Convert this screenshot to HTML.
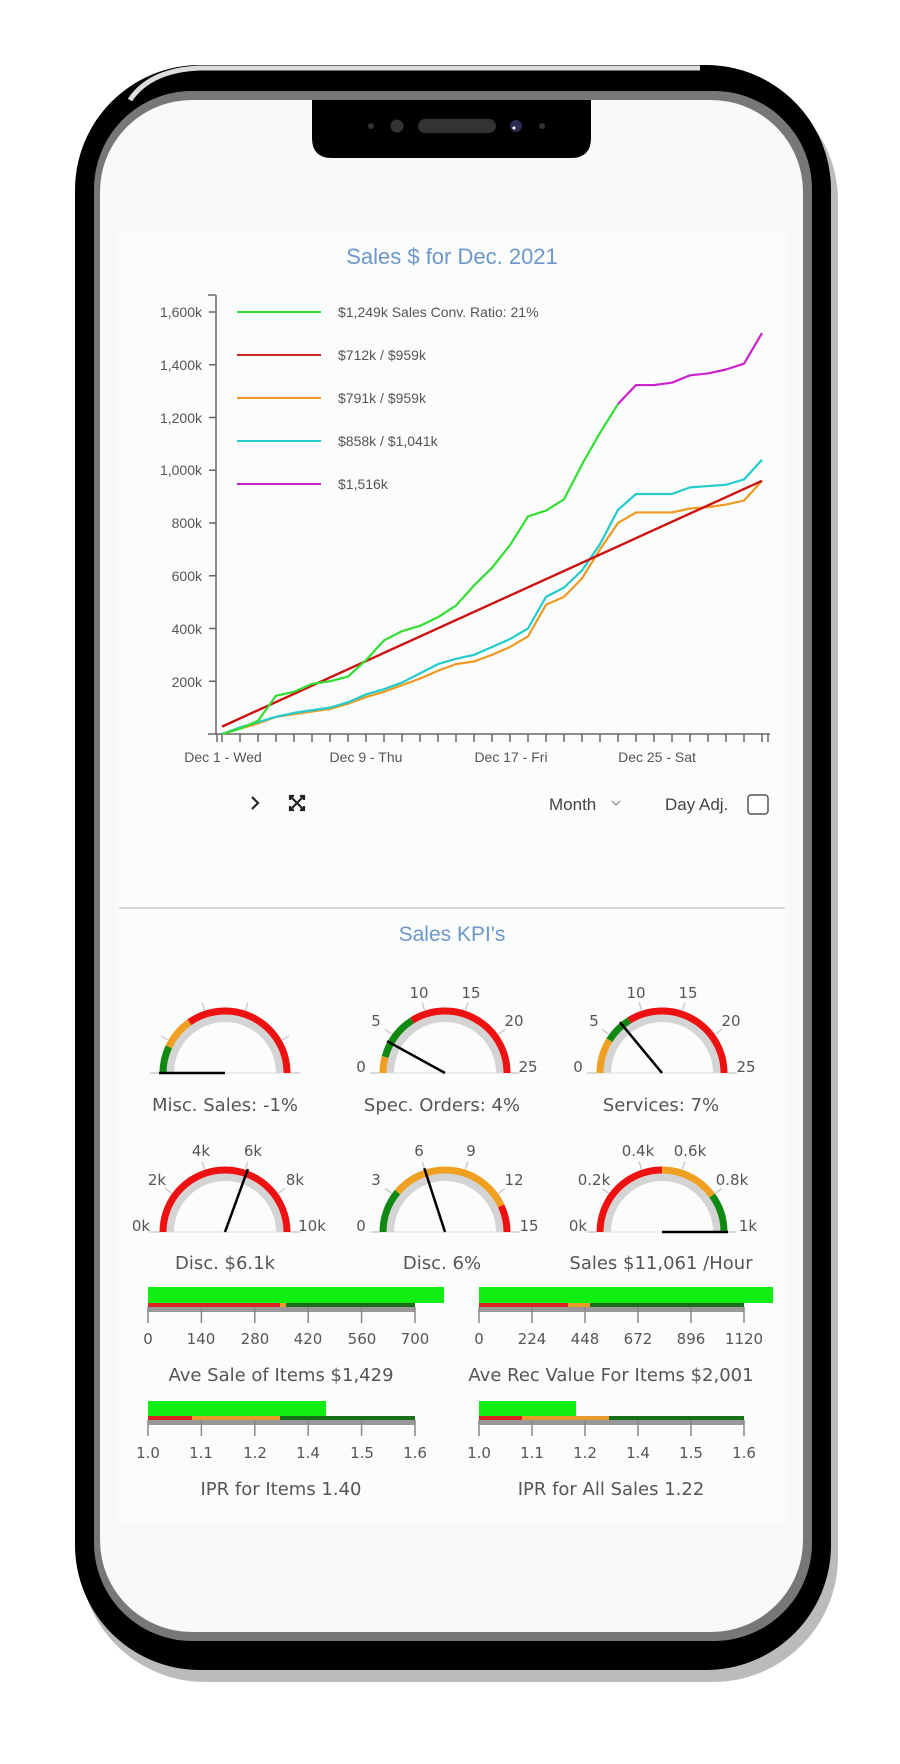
<!DOCTYPE html>
<html><head><meta charset="utf-8">
<style>
html,body{margin:0;padding:0;background:#fff;width:900px;height:1764px;overflow:hidden}
svg{display:block}
.ax{font-family:"Liberation Sans",sans-serif;font-size:14px;fill:#555}
.kp{font-family:"DejaVu Sans","Liberation Sans",sans-serif;fill:#555}
</style></head><body>
<svg id="s" width="900" height="1764" viewBox="0 0 900 1764" xmlns="http://www.w3.org/2000/svg">
<!-- phone -->
<rect x="80" y="76" width="758" height="1606" rx="125" fill="#bbb"/>
<rect x="75" y="65" width="756" height="1605" rx="125" fill="#000"/>
<path d="M130 100 Q150 70 200 68 H700" fill="none" stroke="#ddd" stroke-width="5"/>
<rect x="94" y="91" width="718" height="1550" rx="98" fill="#777"/>
<rect x="100" y="100" width="703" height="1532" rx="92" fill="#f8f9fa"/>
<rect x="118" y="232" width="668" height="1290" fill="#fbfcfc"/>
<path d="M312 100 H591 V138 Q591 158 571 158 H332 Q312 158 312 138 Z" fill="#000"/>
<circle cx="371" cy="126" r="3" fill="#333"/>
<circle cx="397" cy="126" r="6.5" fill="#333"/>
<rect x="418" y="119" width="78" height="14" rx="7" fill="#333"/>
<circle cx="516" cy="126" r="6" fill="#2a2a55"/>
<circle cx="514" cy="128" r="1.5" fill="#fff"/>
<circle cx="542" cy="126" r="3" fill="#333"/>

<!-- chart -->
<text x="452" y="264" text-anchor="middle" font-family="Liberation Sans,sans-serif" font-size="22" fill="#6d97c9">Sales $ for Dec. 2021</text>
<g id="chart"></g>
<g class="ax" text-anchor="end">
<text x="202" y="317">1,600k</text><text x="202" y="370">1,400k</text><text x="202" y="423">1,200k</text>
<text x="202" y="475">1,000k</text><text x="202" y="528">800k</text><text x="202" y="581">600k</text>
<text x="202" y="634">400k</text><text x="202" y="687">200k</text>
</g>
<g class="ax" text-anchor="middle">
<text x="223" y="762">Dec 1 - Wed</text><text x="366" y="762">Dec 9 - Thu</text>
<text x="511" y="762">Dec 17 - Fri</text><text x="657" y="762">Dec 25 - Sat</text>
</g>
<g stroke-width="2">
<line x1="237" y1="312" x2="321" y2="312" stroke="#33dd33"/>
<line x1="237" y1="355" x2="321" y2="355" stroke="#cc2222"/>
<line x1="237" y1="398" x2="321" y2="398" stroke="#ee9922"/>
<line x1="237" y1="441" x2="321" y2="441" stroke="#22cccc"/>
<line x1="237" y1="484" x2="321" y2="484" stroke="#cc22cc"/>
</g>
<g class="ax">
<text x="338" y="317">$1,249k Sales Conv. Ratio: 21%</text>
<text x="338" y="360">$712k / $959k</text>
<text x="338" y="403">$791k / $959k</text>
<text x="338" y="446">$858k / $1,041k</text>
<text x="338" y="489">$1,516k</text>
</g>
<path d="M252 797 L258 803 L252 809" fill="none" stroke="#222" stroke-width="2.2"/>
<g stroke="#222" stroke-width="2.2" fill="none"><path d="M291 797 L303 809 M303 797 L291 809"/><path d="M290 800 V796 H294 M300 796 H304 V800 M304 806 V810 H300 M294 810 H290 V806"/></g>
<text x="549" y="810" font-family="Liberation Sans,sans-serif" font-size="17" fill="#444">Month</text>
<path d="M612 801 L616 805 L620 801" fill="none" stroke="#999" stroke-width="1.5"/>
<text x="665" y="810" font-family="Liberation Sans,sans-serif" font-size="17" fill="#444">Day Adj.</text>
<rect x="748" y="795" width="20" height="19" rx="3" fill="#fff" stroke="#555" stroke-width="1.5"/>

<line x1="119" y1="908" x2="785" y2="908" stroke="#ccc" stroke-width="1.5"/>
<text x="452" y="941" text-anchor="middle" font-family="Liberation Sans,sans-serif" font-size="21" fill="#6d97c9">Sales KPI's</text>
<g id="gauges"></g>
<g class="kp" font-size="15" text-anchor="middle">
<text x="361" y="1072">0</text><text x="376" y="1026">5</text><text x="419" y="998">10</text><text x="471" y="998">15</text><text x="514" y="1026">20</text><text x="528" y="1072">25</text>
<text x="578" y="1072">0</text><text x="594" y="1026">5</text><text x="636" y="998">10</text><text x="688" y="998">15</text><text x="731" y="1026">20</text><text x="746" y="1072">25</text>
<text x="141" y="1231">0k</text><text x="157" y="1185">2k</text><text x="201" y="1156">4k</text><text x="253" y="1156">6k</text><text x="295" y="1185">8k</text><text x="312" y="1231">10k</text>
<text x="361" y="1231">0</text><text x="376" y="1185">3</text><text x="419" y="1156">6</text><text x="471" y="1156">9</text><text x="514" y="1185">12</text><text x="529" y="1231">15</text>
<text x="578" y="1231">0k</text><text x="594" y="1185">0.2k</text><text x="638" y="1156">0.4k</text><text x="690" y="1156">0.6k</text><text x="732" y="1185">0.8k</text><text x="748" y="1231">1k</text>
</g>
<g class="kp" font-size="18" text-anchor="middle">
<text x="225" y="1111">Misc. Sales: -1%</text>
<text x="442" y="1111">Spec. Orders: 4%</text>
<text x="661" y="1111">Services: 7%</text>
<text x="225" y="1269">Disc. $6.1k</text>
<text x="442" y="1269">Disc. 6%</text>
<text x="661" y="1269">Sales $11,061 /Hour</text>
</g>
<g id="bullets"></g>
<g class="kp" font-size="15" text-anchor="middle">
<text x="148" y="1344">0</text><text x="201" y="1344">140</text><text x="255" y="1344">280</text><text x="308" y="1344">420</text><text x="362" y="1344">560</text><text x="415" y="1344">700</text>
<text x="479" y="1344">0</text><text x="532" y="1344">224</text><text x="585" y="1344">448</text><text x="638" y="1344">672</text><text x="691" y="1344">896</text><text x="744" y="1344">1120</text>
<text x="148" y="1458">1.0</text><text x="201" y="1458">1.1</text><text x="255" y="1458">1.2</text><text x="308" y="1458">1.4</text><text x="362" y="1458">1.5</text><text x="415" y="1458">1.6</text>
<text x="479" y="1458">1.0</text><text x="532" y="1458">1.1</text><text x="585" y="1458">1.2</text><text x="638" y="1458">1.4</text><text x="691" y="1458">1.5</text><text x="744" y="1458">1.6</text>
</g>
<g class="kp" font-size="18" text-anchor="middle">
<text x="281" y="1381">Ave Sale of Items $1,429</text>
<text x="611" y="1381">Ave Rec Value For Items $2,001</text>
<text x="281" y="1495">IPR for Items 1.40</text>
<text x="611" y="1495">IPR for All Sales 1.22</text>
</g>
</svg>
<script>
var NS="http://www.w3.org/2000/svg";
function el(p,t,a){var e=document.createElementNS(NS,t);for(var k in a)e.setAttribute(k,a[k]);p.appendChild(e);return e;}
var ch=document.getElementById('chart');
var X0=222,DX=18,Y0=734,K=52.75/200;
function px(d){return X0+(d-1)*DX} function py(v){return Y0-v*K}
el(ch,'line',{x1:216,y1:295,x2:216,y2:734,stroke:'#666','stroke-width':1.5});
el(ch,'line',{x1:208,y1:295,x2:216,y2:295,stroke:'#666','stroke-width':1.5});
el(ch,'line',{x1:208,y1:734,x2:770,y2:734,stroke:'#666','stroke-width':1.5});
for(var i=1;i<=8;i++)el(ch,'line',{x1:209,y1:Y0-i*52.75,x2:216,y2:Y0-i*52.75,stroke:'#666','stroke-width':1.5});
el(ch,'line',{x1:217,y1:734,x2:217,y2:742,stroke:'#666','stroke-width':1.5});
for(var d=1;d<=31;d++)el(ch,'line',{x1:px(d),y1:734,x2:px(d),y2:742,stroke:'#666','stroke-width':1.5});
el(ch,'line',{x1:768,y1:734,x2:768,y2:742,stroke:'#666','stroke-width':1.5});
function line(arr,start,col){var p=[];for(var i=0;i<arr.length;i++)p.push(px(start+i)+','+py(arr[i]));el(ch,'polyline',{points:p.join(' '),fill:'none',stroke:col,'stroke-width':2.2,'stroke-linejoin':'round'});}
var orange=[0,20,40,65,75,85,95,115,140,160,185,210,240,265,275,300,330,370,490,520,590,700,800,840,840,840,855,860,870,885,960];
var cyan=[0,25,45,65,80,90,100,120,150,170,195,230,265,285,300,330,360,400,520,555,620,720,850,910,910,910,935,940,945,965,1040];
var green=[0,20,50,145,160,190,200,218,280,355,390,410,443,487,563,630,716,825,847,890,1022,1142,1251];
var purple=[1251,1323,1323,1332,1360,1367,1382,1404,1520];
line(orange,1,'#ee9922');line(cyan,1,'#22cccc');
el(ch,'line',{x1:px(1),y1:py(28),x2:px(31),y2:py(960),stroke:'#cc1111','stroke-width':2.4});
line(green,1,'#33dd33');line(purple,23,'#cc22cc');

var g=document.getElementById('gauges');
function pt(cx,cy,r,a){a=a*Math.PI/180;return [cx+r*Math.cos(a),cy-r*Math.sin(a)];}
function arc(cx,cy,r,a1,a2,col,w){var p1=pt(cx,cy,r,a1),p2=pt(cx,cy,r,a2);el(g,'path',{d:'M'+p1[0]+' '+p1[1]+' A'+r+' '+r+' 0 0 1 '+p2[0]+' '+p2[1],fill:'none',stroke:col,'stroke-width':w});}
var R='#ee1111',O='#f0a020',G='#118811';
function gauge(cx,cy,segs,needle,nlen,ticks){
 arc(cx,cy,55,180,0,'#d4d4d4',8);
 el(g,'line',{x1:cx-76,y1:cy,x2:cx+76,y2:cy,stroke:'#ddd','stroke-width':1});
 for(var i=0;i<ticks.length;i++){var a=pt(cx,cy,66,ticks[i]),b=pt(cx,cy,74,ticks[i]);el(g,'line',{x1:a[0],y1:a[1],x2:b[0],y2:b[1],stroke:'#ccc','stroke-width':1.5});}
 for(var i=0;i<segs.length;i++)arc(cx,cy,62,segs[i][0],segs[i][1],segs[i][2],7);
 var e=pt(cx,cy,nlen,needle);el(g,'line',{x1:cx,y1:cy,x2:e[0],y2:e[1],stroke:'#000','stroke-width':2.5});
}
var T=[180,144,108,72,36,0];
gauge(225,1073,[[180,155,G],[155,125,O],[125,0,R]],180,66,[180,150,108,72,30,0]);
gauge(445,1073,[[180,165,O],[165,122,G],[122,0,R]],151.2,66,T);
gauge(662,1073,[[180,148,O],[148,122,G],[122,0,R]],129.6,66,T);
gauge(225,1232,[[180,0,R]],70,67,T);
gauge(445,1232,[[180,140,G],[140,25,O],[25,0,R]],108,67,T);
gauge(662,1232,[[180,90,R],[90,36,O],[36,0,G]],0,66,T);

var b=document.getElementById('bullets');
function bullet(x0,x1,y,gEnd,rEnd,oEnd,h){
 el(b,'rect',{x:x0,y:y,width:gEnd-x0,height:h,fill:'#11ee11'});
 el(b,'rect',{x:x0,y:y+h,width:x1-x0,height:4,fill:'#1a6e1a'});
 el(b,'rect',{x:x0,y:y+h,width:rEnd-x0,height:4,fill:'#dd2222'});
 el(b,'rect',{x:rEnd,y:y+h,width:oEnd-rEnd,height:4,fill:'#e89a2a'});
 el(b,'rect',{x:x0,y:y+h+4,width:x1-x0,height:5,fill:'#999'});
 for(var i=0;i<6;i++){var xx=x0+i*(x1-x0)/5;el(b,'line',{x1:xx,y1:y+h+4,x2:xx,y2:y+h+20,stroke:'#888','stroke-width':1.5});}
}
bullet(148,415,1287,444,280,286,16);
bullet(479,744,1287,773,568,590,16);
bullet(148,415,1401,326,192,280,15);
bullet(479,744,1401,576,522,609,15);
</script>
</body></html>
